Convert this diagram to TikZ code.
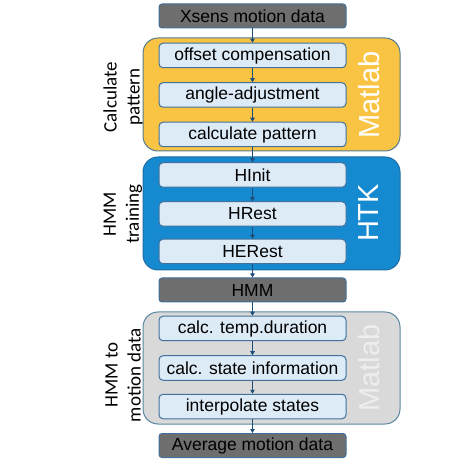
\documentclass[tikz,border=0pt]{standalone}
\usepackage{fontspec}
\setmainfont{Liberation Sans}
\newfontfamily\sidefont{Carlito}
\usetikzlibrary{arrows.meta}
\definecolor{darkbox}{HTML}{6E6E6E}
\definecolor{boxborder}{HTML}{41719C}
\definecolor{lightbox}{HTML}{DDEBF7}
\definecolor{yel}{HTML}{F9C443}
\definecolor{yelborder}{HTML}{557C8C}
\definecolor{htkblue}{HTML}{168AD0}
\definecolor{htkborder}{HTML}{1F6EA5}
\definecolor{grey}{HTML}{D9D9D9}
\definecolor{greyborder}{HTML}{5B87A0}
\definecolor{greytext}{HTML}{EEEEEE}
\definecolor{arrowcol}{HTML}{1F4E79}
\begin{document}
\begin{tikzpicture}[x=1pt,y=-1pt,
  container/.style={draw, line width=1pt, rounded corners=15pt, minimum width=257pt, inner sep=0pt},
  stepbox/.style={draw=boxborder, fill=lightbox, line width=1pt, rounded corners=4pt, minimum width=187pt, minimum height=24.5pt, inner sep=0pt, font=\fontsize{17.5}{20}\selectfont},
  databox/.style={draw=boxborder, fill=darkbox, line width=1pt, rounded corners=3pt, minimum width=187pt, minimum height=24pt, inner sep=0pt, font=\fontsize{17.5}{20}\selectfont},
  sidelabel/.style={rotate=90, align=center, font=\sidefont\fontsize{19}{23}\selectfont},
  tool/.style={rotate=90, font=\fontsize{29}{32}\selectfont},
  flow/.style={draw=arrowcol, line width=0.8pt, -{Triangle[length=4pt,width=4.5pt]}}
]
\useasboundingbox (0,0) rectangle (474,462);
% containers
\node[container, draw=yelborder, fill=yel, minimum height=113pt] (c1) at (271.5,94.5) {};
\node[container, draw=htkborder, fill=htkblue, minimum height=113pt] (c2) at (271.5,213.5) {};
\node[container, draw=greyborder, fill=grey, minimum height=112pt] (c3) at (271.5,368) {};
% tool labels
\node[tool, text=white] (t1) at (369,95) {Matlab};
\node[tool, text=white] (t2) at (369,213) {HTK};
\node[tool, text=greytext] (t3) at (369,368) {Matlab};
% side labels
\node[sidelabel] (s1) at (123,97) {Calculate\\pattern};
\node[sidelabel] (s2) at (123,214) {HMM\\training};
\node[sidelabel] (s3) at (123,375) {HMM to\\motion data};
% boxes
\node[databox] (xs) at (252.5,16) {Xsens motion data};
\node[stepbox] (b1) at (252.5,55.5) {offset compensation};
\node[stepbox] (b2) at (252.5,95) {angle-adjustment};
\node[stepbox] (b3) at (252.5,134.5) {calculate pattern};
\node[stepbox] (h1) at (252.5,175) {HInit};
\node[stepbox] (h2) at (252.5,214) {HRest};
\node[stepbox] (h3) at (252.5,251.5) {HERest};
\node[databox] (hmm) at (252.5,290) {HMM};
\node[stepbox] (m1) at (252.5,328.5) {calc. temp.duration};
\node[stepbox] (m2) at (252.5,368) {calc. state information};
\node[stepbox] (m3) at (252.5,406.5) {interpolate states};
\node[databox] (avg) at (252.5,445.5) {Average motion data};
% arrows
\draw[flow] (xs) -- (b1);
\draw[flow] (b1) -- (b2);
\draw[flow] (b2) -- (b3);
\draw[flow] (b3) -- (h1);
\draw[flow] (h1) -- (h2);
\draw[flow] (h2) -- (h3);
\draw[flow] (h3) -- (hmm);
\draw[flow] (hmm) -- (m1);
\draw[flow] (m1) -- (m2);
\draw[flow] (m2) -- (m3);
\draw[flow] (m3) -- (avg);
\end{tikzpicture}
\end{document}
